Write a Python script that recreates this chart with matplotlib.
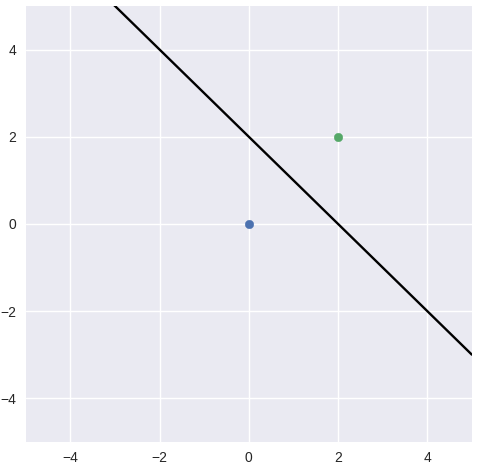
import numpy as np
import matplotlib
matplotlib.use("Agg")
import matplotlib.pyplot as plt

plt.style.use("seaborn-v0_8")

# data
line_x = [-5, 5]
line_y = [7, -3]
blue_pt = (0, 0)
green_pt = (2, 2)

fig = plt.figure(figsize=(4.79, 4.66), dpi=100)
ax = fig.add_axes([0.054, 0.052, 0.931, 0.935])

ax.plot(line_x, line_y, color="black", linewidth=1.7)
ax.scatter([blue_pt[0]], [blue_pt[1]], color="#4C72B0", s=38, zorder=3)
ax.scatter([green_pt[0]], [green_pt[1]], color="#55A868", s=38, zorder=3)

ax.set_xlim(-5, 5)
ax.set_ylim(-5, 5)
ax.set_xticks([-4, -2, 0, 2, 4])
ax.set_yticks([-4, -2, 0, 2, 4])

fig.savefig("out.png", dpi=100)
